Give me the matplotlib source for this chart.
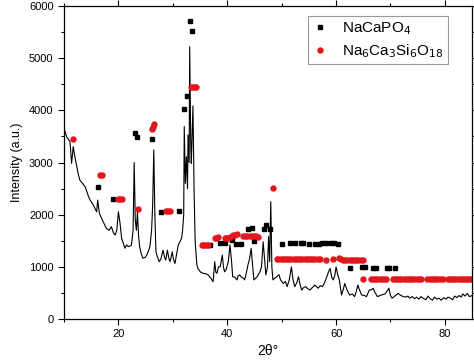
import matplotlib
matplotlib.use('Agg')
import matplotlib.pyplot as plt
from matplotlib.ticker import MultipleLocator

# XRD pattern (2theta, intensity)
two_theta = [10.0, 10.5, 11.1, 11.4, 11.7, 12.0, 12.6, 12.9, 13.9, 14.5, 14.8, 15.4, 16.0, 16.2, 16.5,
             17.2, 17.8, 18.3, 18.7, 19.1, 19.4, 19.7, 20.0, 20.3, 20.6, 20.9, 21.2, 21.5, 21.8, 22.2,
             22.4, 22.7, 22.9, 23.1, 23.3, 23.5, 23.7, 23.9, 24.2, 24.5, 24.9, 25.2, 25.5, 25.8, 26.1,
             26.3, 26.5, 26.7, 26.9, 27.2, 27.5, 27.8, 28.2, 28.5, 28.7, 29.0, 29.3, 29.5, 29.9, 30.1,
             30.4, 30.7, 31.0, 31.3, 31.6, 31.8, 32.0, 32.1, 32.3, 32.5, 32.7, 32.8, 33.0, 33.1, 33.3,
             33.4, 33.7, 33.9, 34.1, 34.4, 34.6, 35.1, 35.6, 36.0, 36.5, 37.0, 37.4, 37.7, 37.9, 38.1,
             38.4, 38.7, 39.1, 39.3, 39.5, 39.8, 40.2, 40.5, 40.8, 41.0, 41.4, 41.8, 42.0, 42.3, 42.6,
             43.0, 43.2, 43.5, 43.8, 44.1, 44.4, 44.6, 44.9, 45.2, 45.5, 46.0, 46.3, 46.6, 46.9, 47.1,
             47.4, 47.6, 47.8, 48.0, 48.2, 48.4, 48.7, 49.1, 49.5, 49.8, 50.3, 50.7, 51.0, 51.4, 51.8,
             52.1, 52.4, 52.8, 53.1, 53.4, 53.7, 54.0, 54.4, 54.8, 55.2, 55.6, 56.1, 56.4, 56.7, 57.1,
             57.5, 57.9, 58.3, 58.6, 58.9, 59.2, 59.5, 59.8, 60.0, 60.3, 60.6, 61.0, 61.3, 61.6, 62.0,
             62.5, 63.0, 63.4, 63.7, 64.0, 64.3, 64.7, 65.2, 65.6, 66.1, 66.5, 66.8, 67.2, 67.6, 68.1,
             68.6, 69.0, 69.4, 69.7, 70.0, 70.3, 70.8, 71.4, 71.8, 72.3, 72.8, 73.2, 73.5, 74.0, 74.4,
             74.8, 75.2, 75.6, 76.0, 76.5, 76.9, 77.3, 77.7, 78.1, 78.5, 78.9, 79.3, 79.8, 80.2, 80.6,
             81.0, 81.4, 81.8, 82.2, 82.6, 83.0, 83.3, 83.7, 84.1, 84.5, 85.0]
intensity = [3660, 3490, 3400, 2985, 3305, 3110, 2790, 2665, 2535, 2350, 2280, 2185, 2055, 2280, 2025,
             1865, 1735, 1700, 1770, 1650, 1610, 1700, 2055, 1835, 1545, 1450, 1355, 1420, 1390, 1400,
             1420, 1700, 3000, 1900, 1700, 2055, 1600, 1390, 1250, 1165, 1180, 1225, 1300, 1390, 1700,
             2200, 3240, 2000, 1290, 1180, 1100, 1150, 1320, 1180, 1130, 1320, 1150, 1100, 1290, 1150,
             1065, 1250, 1420, 1480, 1545, 1700, 2000, 3690, 2600, 3110, 2500, 3530, 3000, 5220, 3300,
             2985, 4085, 2500, 1500, 1050, 970, 900, 875, 870, 845, 780, 715, 1100, 900, 875,
             1000, 1000, 1225, 1000, 905, 950, 1100, 1420, 1100, 810, 800, 750, 830, 845, 800,
             780, 750, 880, 1035, 1150, 1355, 1100, 750, 780, 810, 905, 1000, 1480, 1100, 845,
             1000, 1580, 1100, 2250, 1000, 750, 780, 810, 850, 750, 680, 720, 620, 750, 1000,
             750, 620, 700, 810, 650, 555, 600, 620, 580, 555, 600, 650, 620, 590, 640,
             620, 700, 810, 900, 970, 800, 750, 850, 1000, 850, 750, 460, 560, 680, 560,
             460, 480, 430, 520, 650, 560, 460, 450, 430, 555, 560, 590, 500, 430, 450,
             470, 480, 540, 590, 450, 400, 440, 490, 460, 430, 420, 440, 400, 430, 390,
             420, 380, 430, 400, 370, 440, 390, 360, 420, 380, 400, 360, 410, 380, 420,
             400, 370, 440, 410, 450, 420, 480, 440, 490, 430, 450]

# NaCaPO4 reference peaks
nacapo4_x = [16.2, 19.0, 23.0, 23.4, 26.2, 27.9, 31.1, 32.0, 32.6, 33.1, 33.6, 36.9, 38.6, 39.6,
             40.9, 41.6, 42.6, 43.8, 44.5, 44.9, 46.7, 47.2, 47.8, 50.0, 51.5, 52.4, 53.6, 54.0,
             55.0, 56.2, 56.9, 57.5, 58.2, 59.1, 59.6, 60.3, 62.5, 64.8, 65.4, 66.8, 67.4, 69.3,
             69.8, 70.8]
nacapo4_y = [2535, 2300, 3565, 3490, 3460, 2055, 2070, 4025, 4275, 5715, 5530, 1410, 1465, 1465,
             1510, 1430, 1440, 1720, 1745, 1490, 1730, 1795, 1730, 1440, 1450, 1465, 1450, 1450,
             1440, 1440, 1440, 1450, 1450, 1450, 1450, 1440, 970, 990, 990, 970, 985, 970,
             970, 975]

# Na6Ca3Si6O18 reference peaks
silicate_x = [11.7, 16.6, 16.9, 20.0, 20.3, 20.6, 23.6, 26.2, 26.4, 26.6, 28.8, 29.1, 29.4,
              33.4, 33.7, 34.0, 34.3, 35.3, 35.6, 35.9, 36.2, 36.5, 37.7, 38.0, 38.3, 39.5,
              39.8, 40.1, 40.5, 41.0, 41.4, 41.8, 42.9, 43.3, 43.7, 44.1, 44.5, 44.9, 45.3,
              45.6, 48.5, 49.1, 49.4, 49.8, 50.2, 50.6, 51.0, 51.4, 51.8, 52.2, 52.6, 53.0,
              53.4, 53.8, 54.2, 54.6, 55.0, 55.4, 55.8, 56.2, 56.6, 57.0, 58.1, 59.4, 60.6,
              60.9, 61.3, 61.7, 62.1, 62.5, 62.9, 63.3, 63.7, 64.1, 64.5, 64.9, 65.0, 66.4,
              66.8, 67.2, 67.6, 68.0, 68.4, 68.8, 69.2, 70.4, 70.8, 71.2, 71.6, 72.0, 72.4,
              72.8, 73.2, 73.6, 74.0, 74.4, 74.8, 75.2, 75.6, 76.8, 77.2, 77.6, 78.0, 78.4,
              78.8, 79.2, 79.6, 80.5, 80.9, 81.3, 81.7, 82.1, 82.5, 82.9, 83.3, 83.7, 84.1,
              84.5, 84.8]
silicate_y = [3445, 2760, 2760, 2300, 2300, 2300, 2100, 3635, 3690, 3740, 2065, 2065, 2065,
              4455, 4455, 4455, 4455, 1410, 1410, 1410, 1410, 1410, 1545, 1560, 1575, 1545,
              1545, 1550, 1570, 1610, 1620, 1630, 1590, 1590, 1590, 1590, 1590, 1590, 1590,
              1580, 2505, 1150, 1145, 1150, 1150, 1150, 1150, 1150, 1150, 1150, 1150, 1150,
              1150, 1150, 1150, 1150, 1150, 1150, 1150, 1150, 1150, 1150, 1140, 1160, 1170,
              1150, 1140, 1130, 1130, 1130, 1130, 1130, 1130, 1130, 1130, 1130, 770, 770,
              770, 770, 770, 770, 770, 770, 770, 770, 770, 770, 770, 770, 770,
              770, 770, 770, 770, 770, 770, 770, 770, 770, 770, 770, 770, 770,
              770, 770, 770, 770, 770, 770, 770, 770, 770, 770, 770, 770, 770,
              770, 770]

plt.rcParams['font.family'] = ['Liberation Sans', 'DejaVu Sans']

fig = plt.figure(figsize=(4.74, 3.61), dpi=100)
ax = fig.add_axes([0.135, 0.1163, 0.861, 0.867])

ax.plot(two_theta, intensity, color='black', linewidth=0.8)
ax.plot(nacapo4_x, nacapo4_y, linestyle='none', marker='s', markersize=2.2,
        color='black', label='NaCaPO$_4$')
ax.plot(silicate_x, silicate_y, linestyle='none', marker='o', markersize=4.6,
        color='#e3161e', markeredgewidth=0, label='Na$_6$Ca$_3$Si$_6$O$_{18}$')

ax.set_xlim(10, 85)
ax.set_ylim(0, 6000)
ax.xaxis.set_major_locator(MultipleLocator(20))
ax.xaxis.set_minor_locator(MultipleLocator(10))
ax.yaxis.set_major_locator(MultipleLocator(1000))
ax.yaxis.set_minor_locator(MultipleLocator(500))
ax.tick_params(which='both', direction='out', top=True, right=True, labelsize=8, width=0.8)
ax.tick_params(which='major', length=4)
ax.tick_params(which='minor', length=2.5)
for s in ax.spines.values():
    s.set_linewidth(0.9)

ax.set_xlabel('2θ°', fontsize=10, labelpad=3)
ax.set_ylabel('Intensity (a.u.)', fontsize=9, labelpad=4)

leg = ax.legend(loc='upper right', bbox_to_anchor=(0.941, 0.968), borderaxespad=0,
                fontsize=11, fancybox=False, edgecolor='#999999', framealpha=1,
                handlelength=1.0, handletextpad=0.9, borderpad=0.3, labelspacing=0.3)
leg.get_frame().set_linewidth(0.8)

plt.savefig('out.png', dpi=100)
